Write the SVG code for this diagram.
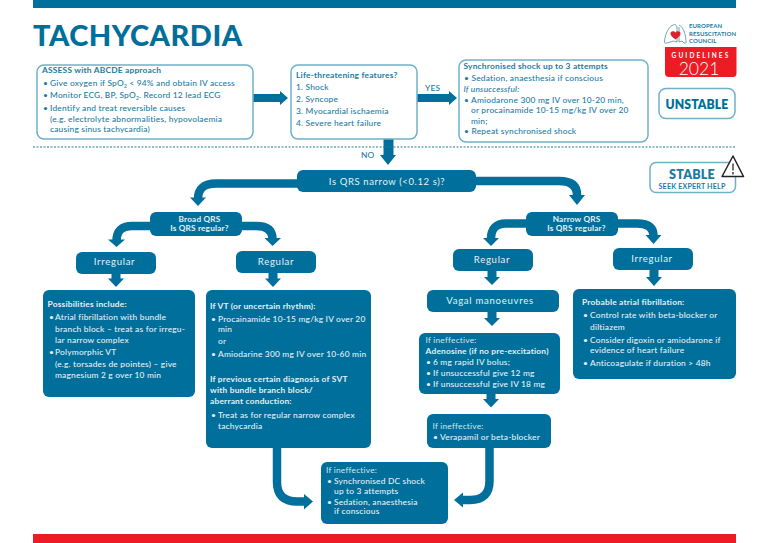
<svg xmlns="http://www.w3.org/2000/svg" width="768" height="543" viewBox="0 0 768 543">
<style>
text{font-family:"Lato","Open Sans","Liberation Sans",sans-serif;font-size:8.4px;font-weight:500;letter-spacing:.2px}
.b{font-weight:700}
.d{fill:#1b7ba3}
.w{fill:#e6f1f6}
.l{fill:#d5e6ee;font-weight:400}
.o{fill:#fff;stroke:#6fb0ca;stroke-width:1.5}
.f{fill:#006f9b}
.cap{font-size:9.600px;font-weight:400;fill:#e6f1f6;letter-spacing:.7px;text-anchor:middle}
.c{text-anchor:middle}
.sm{font-size:8.200px}
.logo{font-size:6px;font-weight:700;fill:#1b7ba3;letter-spacing:.1px}
.conn{fill:none;stroke:#006f9b;stroke-width:8.500}
.h{fill:#006f9b}
</style>
<rect x="33" y="0" width="703" height="8" fill="#006f9b"/>
<rect x="33" y="534" width="703" height="9" fill="#ed1c24"/>
<text x="33" y="46" style="font-size:29px;font-weight:900;letter-spacing:.5px" fill="#006f9b">TACHYCARDIA</text>

<g id="logo">
<path d="M673 25C668 27 664.500 36 664.500 42.500Q664.500 43.500 667 43L673.500 41 677 42 677 27C676 24 674.500 24.500 673 25ZM679 27L679 42 682 41 684 43Q686 43.500 686 42.500C686 36 684 27 679 25" fill="#fff" stroke="#4a90b0" stroke-width=".8"/>
<path d="M675.500 39.500C672 37 670.500 35.500 670.500 33.500 670.500 31 674 30.500 675.500 32.500 677 30.500 680.500 31 680.500 33.500 680.500 35.500 679 37 675.500 39.500Z" fill="#d8222c"/>
<text x="689" y="28" class="logo">EUROPEAN</text>
<text x="689" y="35.500" class="logo">RESUSCITATION</text>
<text x="689" y="43" class="logo">COUNCIL</text>
<path d="M665 47H736.500V73Q736.500 77 733 77H669Q665 77 665 73Z" fill="#ed1c24"/>
<text x="701" y="57.500" class="c" style="font-size:6.500px;font-weight:700;letter-spacing:2.100px" fill="#fff">GUIDELINES</text>
<text x="699" y="75" class="c" style="font-size:17.500px;font-weight:300;letter-spacing:0" fill="#fff">2021</text>
</g>

<g id="connectors">
<path d="M253 98H280M417 98H449" class="conn" style="stroke-width:8"/>
<path d="M388.500 139V157" class="conn" style="stroke-width:10"/>
<path d="M280 91L288 98 280 105ZM449 91L457 98 449 105ZM380 155H396L388 165Z" class="h"/>
<path d="M300 183.500H216Q198 183.500 198 199" class="conn"/>
<path d="M470 181H559Q577 181 577 195" class="conn"/>
<path d="M190 197.500H206L198 206ZM569 195H585L577 205Z" class="h"/>
<path d="M152 226H132Q116.500 226 116.500 241" class="conn"/>
<path d="M240 226H256Q272.500 226 272.500 239" class="conn"/>
<path d="M108 239.500H125L116.500 247ZM264.500 238H281L272.500 246Z" class="h"/>
<path d="M528 223.500H506Q491 223.500 491 239" class="conn"/>
<path d="M616 223.500H637Q653.500 223.500 653.500 236" class="conn"/>
<path d="M483 238H499L491 246ZM645.500 235H661.500L653.500 244Z" class="h"/>
<path d="M116 274V280M273 273V280M492 271V278M492 312V319M654 270V278M491 394V400" class="conn" style="stroke-width:9"/>
<path d="M108 278.500H124L116 287ZM265 278.500H281L273 287ZM484 277H500L492 285ZM484 318H500L492 326ZM646 277H662L654 286ZM483 399H499L491 407.500Z" class="h"/>
<path d="M277 448V482Q277 501.500 297 501.500H306" class="conn"/>
<path d="M304 494L313 501.500 304 509.500Z" class="h"/>
<path d="M489.500 448V481Q489.500 500 470 500H461" class="conn"/>
<path d="M463 492.500L454 500 463 507.500Z" class="h"/>
</g>

<g id="assess">
<rect x="37" y="65" width="216" height="74" rx="7" class="o"/>
<text x="42" y="73" class="b d">ASSESS with ABCDE approach</text>
<text x="43" y="85.500" class="d">•</text><text x="50" y="85.500" class="d">Give oxygen if SpO<tspan dy="2" style="font-size:5px">2</tspan><tspan dy="-2"> &lt; 94% and obtain IV access</tspan></text>
<text x="43" y="98" class="d">•</text><text x="50" y="98" class="d">Monitor ECG, BP, SpO<tspan dy="2" style="font-size:5px">2</tspan><tspan dy="-2">. Record 12 lead ECG</tspan></text>
<text x="43" y="110.500" class="d">•</text><text x="50" y="110.500" class="d">Identify and treat reversible causes</text>
<text x="50" y="122" class="d">(e.g. electrolyte abnormalities, hypovolaemia</text>
<text x="50" y="132" class="d">causing sinus tachycardia)</text>
</g>
<g id="life">
<rect x="291" y="65" width="126" height="74" rx="7" class="o"/>
<text x="296" y="78" class="b d">Life-threatening features?</text>
<text x="296" y="90" class="d">1.  Shock</text>
<text x="296" y="102" class="d">2. Syncope</text>
<text x="296" y="114" class="d">3. Myocardial ischaemia</text>
<text x="296" y="126" class="d">4. Severe heart failure</text>
</g>
<g id="shock">
<rect x="459" y="60" width="189" height="82" rx="7" class="o"/>
<text x="463.500" y="69" class="b d">Synchronised shock up to 3 attempts</text>
<text x="464" y="81" class="d">•</text><text x="471.500" y="81" class="d">Sedation, anaesthesia if conscious</text>
<text x="463.500" y="92" class="d" style="font-style:italic">If unsuccessful:</text>
<text x="464" y="103" class="d">•</text><text x="471" y="103" class="d">Amiodarone 300 mg IV over 10-20 min,</text>
<text x="471" y="113" class="d">or procainamide 10-15 mg/kg IV over 20</text>
<text x="471" y="124" class="d">min;</text>
<text x="464" y="134" class="d">•</text><text x="471.500" y="134" class="d">Repeat synchronised shock</text>
</g>
<text x="425" y="91" class="d">YES</text>
<text x="361" y="158" class="d">NO</text>

<g id="unstable">
<rect x="659" y="88.500" width="76" height="30" rx="7" class="o"/>
<text x="697" y="108.500" class="c" style="font-size:12.200px;font-weight:800;letter-spacing:.1px" fill="#006f9b">UNSTABLE</text>
</g>
<path d="M33 147H736" stroke="#1b7ba3" stroke-width="1" stroke-dasharray="2 1.500" fill="none"/>
<g id="stable">
<rect x="650" y="162.500" width="85.500" height="30" rx="6" class="o"/>
<text x="692" y="179" class="c" style="font-size:12.500px;font-weight:800" fill="#1b7ba3">STABLE</text>
<text x="692" y="188.500" class="c" style="font-size:7.100px;font-weight:700" fill="#1b7ba3">SEEK EXPERT HELP</text>
<path d="M733 156L743.500 176.500H722Z" fill="#fff" stroke="#222" stroke-width="1.500" stroke-linejoin="round"/>
<path d="M733 163.500V170.500M733 172V174.500" stroke="#444" stroke-width="1.500"/>
</g>

<g id="qrs">
<rect x="297" y="170" width="179" height="22" rx="6" class="f"/>
<text x="387" y="184.500" class="cap" style="font-size:9.500px;letter-spacing:.6px">Is QRS narrow (&lt;0.12 s)?</text>
</g>
<g id="broad">
<rect x="150" y="212" width="92" height="24" rx="6" class="f"/>
<text x="199.500" y="221.500" class="b c w sm">Broad QRS</text>
<text x="199.500" y="231" class="b c w sm">Is QRS regular?</text>
</g>
<g id="narrow">
<rect x="526" y="212" width="92" height="24" rx="6" class="f"/>
<text x="576.500" y="221.500" class="b c w sm">Narrow QRS</text>
<text x="576.500" y="231" class="b c w sm">Is QRS regular?</text>
</g>
<g id="irregular-broad"><rect x="76" y="252" width="80" height="22" rx="6" class="f"/><text x="114.500" y="265" class="cap">Irregular</text></g>
<g id="regular-broad"><rect x="236" y="251" width="80" height="22" rx="6" class="f"/><text x="276" y="265" class="cap">Regular</text></g>
<g id="regular-narrow"><rect x="453" y="249" width="80" height="22" rx="6" class="f"/><text x="492" y="263" class="cap">Regular</text></g>
<g id="irregular-narrow"><rect x="613" y="248" width="80" height="22" rx="6" class="f"/><text x="652" y="262" class="cap">Irregular</text></g>
<g id="vagal"><rect x="427" y="290" width="132" height="22" rx="6" class="f"/><text x="490" y="304" class="cap">Vagal manoeuvres</text></g>

<g id="possibilities">
<rect x="43" y="290" width="152" height="107" rx="6" class="f"/>
<text x="47.500" y="307" class="b w">Possibilities include:</text>
<text x="49" y="320" class="w">•</text><text x="55" y="320" class="w">Atrial fibrillation with bundle</text>
<text x="55" y="331.500" class="w">branch block – treat as for irregu-</text>
<text x="55" y="343" class="w">lar narrow complex</text>
<text x="49" y="355" class="w">•</text><text x="55" y="355" class="w">Polymorphic VT</text>
<text x="55" y="366.500" class="w">(e.g. torsades de pointes) – give</text>
<text x="55" y="377.500" class="w">magnesium 2 g over 10 min</text>
</g>
<g id="vt">
<rect x="206" y="290" width="165" height="158" rx="6" class="f"/>
<text x="210" y="309" class="b w">If VT (or uncertain rhythm):</text>
<text x="211" y="322" class="w">•</text><text x="218" y="322" class="w">Procainamide 10-15 mg/kg IV over 20</text>
<text x="218" y="332" class="w">min</text>
<text x="218" y="344" class="w">or</text>
<text x="211" y="357" class="w">•</text><text x="218" y="357" class="w">Amiodarine 300 mg IV over 10-60 min</text>
<text x="210" y="382" class="b w">If previous certain diagnosis of SVT</text>
<text x="210" y="393" class="b w">with bundle branch block/</text>
<text x="210" y="404" class="b w">aberrant conduction:</text>
<text x="211" y="418" class="w">•</text><text x="218" y="418" class="w">Treat as for regular narrow complex</text>
<text x="218" y="429" class="w">tachycardia</text>
</g>
<g id="adenosine">
<rect x="419" y="333" width="141" height="61" rx="6" class="f"/>
<text x="425.500" y="343" class="l">If ineffective:</text>
<text x="425.500" y="354" class="b w">Adenosine (if no pre-excitation)</text>
<text x="426" y="365" class="w">•</text><text x="433" y="365" class="w">6 mg rapid IV bolus;</text>
<text x="426" y="376" class="w">•</text><text x="433" y="376" class="w">If unsuccessful give 12 mg</text>
<text x="426" y="387" class="w">•</text><text x="433" y="387" class="w">If unsuccessful give IV 18 mg</text>
</g>
<g id="verapamil">
<rect x="427" y="414" width="124" height="34" rx="6" class="f"/>
<text x="432.500" y="429" class="l">If ineffective:</text>
<text x="433" y="440" class="w">•</text><text x="440" y="440" class="w">Verapamil or beta-blocker</text>
</g>
<g id="fibrillation">
<rect x="573" y="289" width="163" height="90" rx="6" class="f"/>
<text x="582" y="305" class="b w">Probable atrial fibrillation:</text>
<text x="583" y="318" class="w">•</text><text x="590" y="318" class="w">Control rate with beta-blocker or</text>
<text x="590" y="330" class="w">diltiazem</text>
<text x="583" y="343" class="w">•</text><text x="590" y="343" class="w">Consider digoxin or  amiodarone if</text>
<text x="590" y="353" class="w">evidence of heart failure</text>
<text x="583" y="366" class="w">•</text><text x="590" y="366" class="w">Anticoagulate if duration &gt; 48h</text>
</g>
<g id="dc-shock">
<rect x="321" y="462" width="127" height="62" rx="6" class="f"/>
<text x="326" y="473" class="l">If ineffective:</text>
<text x="327" y="484" class="w">•</text><text x="334" y="484" class="w">Synchronised DC shock</text>
<text x="334" y="494" class="w">up to 3 attempts</text>
<text x="327" y="505" class="w">•</text><text x="334" y="505" class="w">Sedation, anaesthesia</text>
<text x="334" y="514" class="w">if conscious</text>
</g>
</svg>
